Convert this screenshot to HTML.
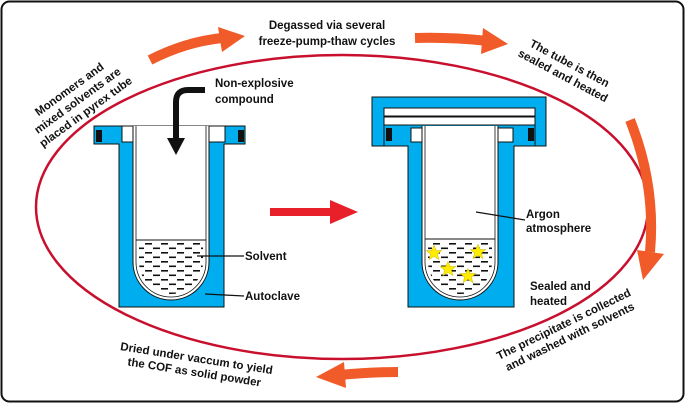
<!DOCTYPE html>
<html><head><style>
html,body{margin:0;padding:0;background:#fff}
svg{display:block}
text{font-family:"Liberation Sans",Arial,sans-serif;font-weight:bold;font-size:11.5px;fill:#111}
</style></head><body>
<svg width="685" height="403" viewBox="0 0 685 403" xmlns="http://www.w3.org/2000/svg">
<defs>
<pattern id="dash" width="16" height="9" patternUnits="userSpaceOnUse" x="0" y="243">
<rect x="1" y="0" width="7" height="1.6" fill="#111"/>
<rect x="9" y="4.5" width="7" height="1.6" fill="#111"/>
</pattern>
<clipPath id="liqL"><path d="M139 242 H203 V262 A32 32 0 0 1 139 262 Z"/></clipPath>
<clipPath id="liqR"><path d="M428 242 H492 V262 A32 32 0 0 1 428 262 Z"/></clipPath>
<polygon id="star" points="0,-7 2,-2.2 7,-2.2 3,1 4.5,6 0,3 -4.5,6 -3,1 -7,-2.2 -2,-2.2"/>
</defs>
<rect x="1.5" y="1.5" width="682" height="400" rx="8" fill="#fff" stroke="#111" stroke-width="2"/>
<ellipse cx="342" cy="207" rx="306" ry="152" fill="none" stroke="#c8102e" stroke-width="2.5"/>

<!-- orange arrows -->
<g fill="none" stroke="#f15a29" stroke-width="10">
<path d="M150 60 Q185 42 222 38"/>
<path d="M415 38 Q450 37 488 41"/>
<path d="M630 120 Q656 185 650 252"/>
<path d="M398 372 Q370 372 340 375"/>
</g>
<g fill="#f15a29">
<polygon points="218,27 245,36 222,52"/>
<polygon points="483,28 508,44 481,54"/>
<polygon points="637,250 664,254 643,280"/>
<polygon points="344,362 316,377 346,388"/>
</g>
<!-- red center arrow -->
<path d="M270 208 H330 V200 L358 212 L330 224 V216 H270 Z" fill="#e8202a"/>

<!-- LEFT autoclave -->
<g stroke="#111" stroke-width="1">
<path d="M94 126 H245 V144 H224 V307 H119 V144 H94 Z" fill="#00aeef"/>
<rect x="122" y="126" width="103" height="16" fill="#fff"/>
<path d="M133 126 V262 A38 38 0 0 0 209 262 V126" fill="#fff"/>
<path d="M136 126 V262 A35 35 0 0 0 206 262 V126" fill="none" stroke-width="0.8"/>
<line x1="122" y1="142" x2="133" y2="142"/>
<line x1="209" y1="142" x2="225" y2="142"/>
<line x1="136" y1="240" x2="206" y2="240"/>
</g>
<rect x="96" y="130" width="6" height="12" fill="#111"/>
<rect x="238" y="130" width="6" height="12" fill="#111"/>
<rect x="130" y="240" width="80" height="60" fill="url(#dash)" clip-path="url(#liqL)"/>
<path d="M205 90 H188 Q176 90 176 102 V140" fill="none" stroke="#111" stroke-width="6"/>
<polygon points="167,138 185,138 176,155" fill="#111"/>
<text x="215" y="87">Non-explosive</text>
<text x="215" y="103">compound</text>
<line x1="197" y1="256" x2="244" y2="256" stroke="#111" stroke-width="1.2"/>
<text x="245" y="260">Solvent</text>
<line x1="205" y1="294" x2="244" y2="296" stroke="#111" stroke-width="1.2"/>
<text x="245" y="300">Autoclave</text>

<!-- RIGHT autoclave -->
<g stroke="#111" stroke-width="1">
<path d="M372 97 H546 V146 H535 V122 H384 V146 H372 Z" fill="#00aeef"/>
<path d="M384 125 H535 V146 H514 V307 H408 V146 H384 Z" fill="#00aeef"/>
<rect x="384" y="108" width="151" height="8" fill="#fff"/>
<rect x="384" y="117" width="151" height="8" fill="#fff"/>
<rect x="411" y="128" width="102" height="14" fill="#fff"/>
<path d="M422 126 V262 A38 38 0 0 0 498 262 V126" fill="#fff"/>
<path d="M425 126 V262 A35 35 0 0 0 495 262 V126" fill="none" stroke-width="0.8"/>
<line x1="411" y1="142" x2="422" y2="142"/>
<line x1="498" y1="142" x2="513" y2="142"/>
<line x1="425" y1="239" x2="495" y2="239"/>
</g>
<rect x="386" y="128" width="6" height="13" fill="#111"/>
<rect x="528" y="128" width="6" height="13" fill="#111"/>
<rect x="420" y="240" width="80" height="60" fill="url(#dash)" clip-path="url(#liqR)"/>
<g fill="#ffec00" stroke="#d4c000" stroke-width="0.5">
<use href="#star" transform="translate(434,253) scale(1.1)"/>
<use href="#star" transform="translate(478,252) scale(1.1)"/>
<use href="#star" transform="translate(448,269) scale(1.1)"/>
<use href="#star" transform="translate(468,276) scale(1.1)"/>
</g>
<line x1="476" y1="212" x2="525" y2="220" stroke="#111" stroke-width="1.2"/>
<text x="526" y="218">Argon</text>
<text x="526" y="232">atmosphere</text>
<text x="530" y="290">Sealed and</text>
<text x="530" y="305">heated</text>

<!-- cycle labels -->
<text x="327" y="29" text-anchor="middle">Degassed via several</text>
<text x="327" y="45" text-anchor="middle">freeze-pump-thaw cycles</text>
<g transform="translate(88,115) rotate(-36)">
<text x="0" y="-28" text-anchor="middle">Monomers and</text>
<text x="0" y="-14" text-anchor="middle">mixed solvents are</text>
<text x="0" y="0" text-anchor="middle">placed in pyrex tube</text>
</g>
<g transform="translate(565,72) rotate(28)">
<text x="0" y="-6" text-anchor="middle">The tube is then</text>
<text x="0" y="8" text-anchor="middle">sealed and heated</text>
</g>
<g transform="translate(568,333) rotate(-26)">
<text x="0" y="-6" text-anchor="middle">The precipitate is collected</text>
<text x="0" y="8" text-anchor="middle">and washed with solvents</text>
</g>
<g transform="translate(195,368) rotate(9)">
<text x="0" y="-6" text-anchor="middle">Dried under vaccum to yield</text>
<text x="0" y="8" text-anchor="middle">the COF as solid powder</text>
</g>
</svg>
</body></html>
